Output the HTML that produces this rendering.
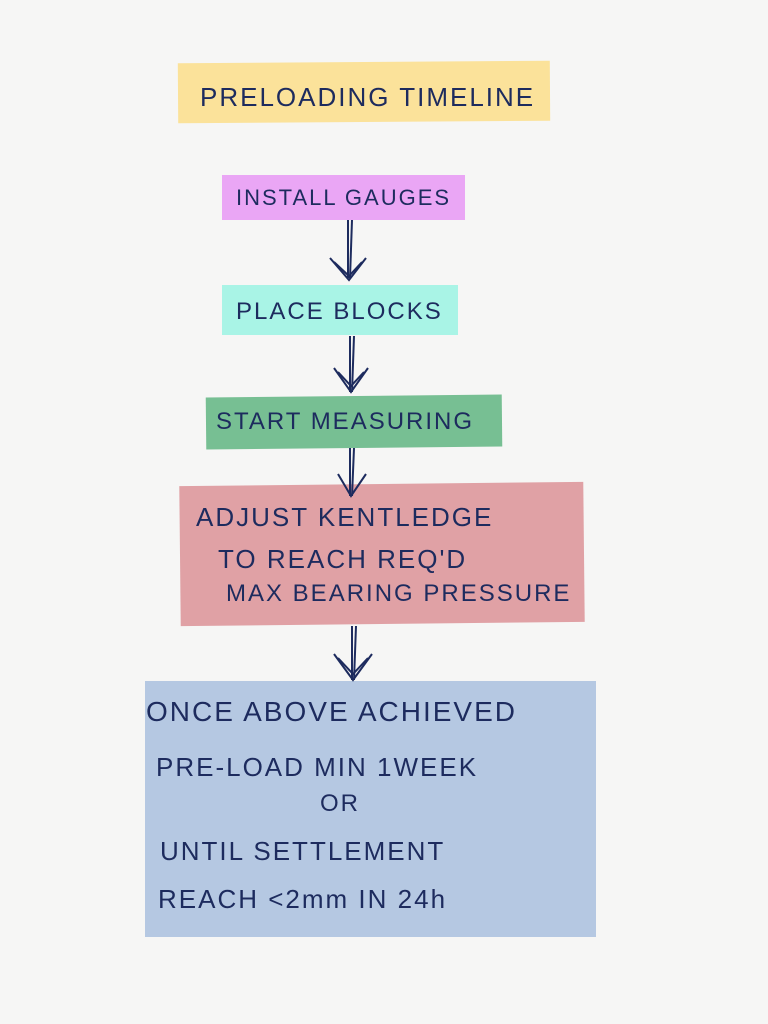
<!DOCTYPE html>
<html><head><meta charset="utf-8"><style>
html,body{margin:0;padding:0;background:#f6f6f5;}
body{width:768px;height:1024px;position:relative;overflow:hidden;font-family:"Liberation Sans",sans-serif;color:#1d2b5e;}
.b{position:absolute;}
.t{position:absolute;font-size:24px;letter-spacing:2px;white-space:nowrap;font-weight:normal;}
svg{position:absolute;left:0;top:0;}
</style></head><body>
<div class="b" style="left:178px;top:62px;width:372px;height:60px;background:#fbe29a;transform:rotate(-0.4deg)"></div>
<div class="b" style="left:222px;top:175px;width:243px;height:45px;background:#eaa6f5;"></div>
<div class="b" style="left:222px;top:285px;width:236px;height:50px;background:#a9f4e6;"></div>
<div class="b" style="left:206px;top:396px;width:296px;height:52px;background:#77bf93;transform:rotate(-0.6deg)"></div>
<div class="b" style="left:180px;top:484px;width:404px;height:140px;background:#e0a1a5;transform:rotate(-0.6deg)"></div>
<div class="b" style="left:145px;top:681px;width:451px;height:256px;background:#b5c8e2;"></div>

<div class="t" style="left:200px;top:82px;font-size:26px;">PRELOADING TIMELINE</div>
<div class="t" style="left:236px;top:185px;font-size:22px;">INSTALL GAUGES</div>
<div class="t" style="left:236px;top:298px;font-size:24px;">PLACE BLOCKS</div>
<div class="t" style="left:216px;top:408px;font-size:24px;">START MEASURING</div>
<div class="t" style="left:196px;top:502px;font-size:26px;">ADJUST KENTLEDGE</div>
<div class="t" style="left:218px;top:544px;font-size:26px;">TO REACH REQ'D</div>
<div class="t" style="left:226px;top:580px;font-size:24px;">MAX BEARING PRESSURE</div>
<div class="t" style="left:146px;top:696px;font-size:28px;">ONCE ABOVE ACHIEVED</div>
<div class="t" style="left:156px;top:752px;font-size:26px;">PRE-LOAD MIN 1WEEK</div>
<div class="t" style="left:320px;top:790px;font-size:24px;">OR</div>
<div class="t" style="left:160px;top:836px;font-size:26px;">UNTIL SETTLEMENT</div>
<div class="t" style="left:158px;top:884px;font-size:26px;">REACH &lt;2mm IN 24h</div>

<svg width="768" height="1024" stroke="#1d2b5e" stroke-width="2" fill="none">
<g><line x1="348" y1="220" x2="348" y2="278"/><line x1="352" y1="220" x2="350" y2="278"/><polyline points="330,258 349,280 366,258"/><polyline points="334,262 349,276 362,262"/></g>
<g><line x1="350" y1="336" x2="350" y2="392"/><line x1="354" y1="336" x2="352" y2="392"/><polyline points="334,368 351,392 368,368"/><polyline points="338,372 351,386 364,372"/></g>
<g><line x1="350" y1="448" x2="350" y2="496"/><line x1="354" y1="448" x2="352" y2="496"/><polyline points="338,474 351,496 366,474"/></g>
<g><line x1="352" y1="626" x2="352" y2="680"/><line x1="356" y1="626" x2="354" y2="680"/><polyline points="334,654 353,680 372,654"/><polyline points="338,658 353,674 368,658"/></g>
</svg>
</body></html>
